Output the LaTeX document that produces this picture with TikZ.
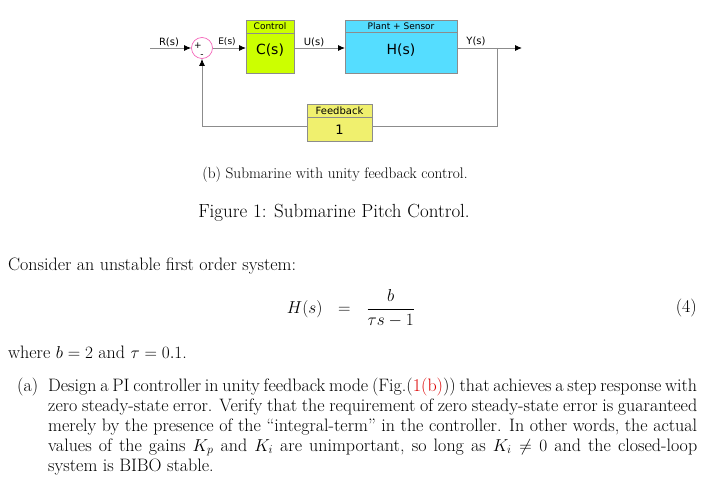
\documentclass[tikz,border=0pt]{standalone}
\usepackage{fontspec}
\usepackage{amsmath}
\usepackage{xcolor}
\newfontfamily\djv{DejaVu Sans}
\definecolor{ctl}{RGB}{204,255,0}
\definecolor{plt}{RGB}{85,221,255}
\definecolor{fbk}{RGB}{240,240,110}
\definecolor{ln}{RGB}{140,140,140}
\definecolor{refred}{RGB}{220,0,0}
\usetikzlibrary{arrows.meta}
\tikzset{
  blk/.style={draw=ln,line width=0.8pt,inner sep=0pt},
  wire/.style={draw=ln,line width=0.9pt},
  arr/.style={wire,-{Latex[length=7pt,width=6pt,color=black]}},
  lbl/.style={font=\djv\fontsize{9}{10}\selectfont,inner sep=1pt},
  body/.style={font=\fontsize{18}{20}\selectfont,inner sep=0pt}
}
\begin{document}
\begin{tikzpicture}[x=1pt,y=-1pt]
\useasboundingbox (0,0) rectangle (712,492);
% blocks
\filldraw[blk,fill=ctl] (246,20) rectangle (294,73);
\draw[blk] (246,33) -- (294,33);
\node[lbl] (ctlh) at (270,26.5) {Control};
\node[font=\djv\fontsize{14}{16}\selectfont] (C) at (270,50) {C(s)};
\filldraw[blk,fill=plt] (345,20) rectangle (457,73);
\draw[blk] (345,32) -- (457,32);
\node[lbl] (plh) at (401,26) {Plant + Sensor};
\node[font=\djv\fontsize{14}{16}\selectfont] (H) at (401,50) {H(s)};
\filldraw[blk,fill=fbk] (307,104) rectangle (372,141);
\draw[blk] (307,117) -- (372,117);
\node[lbl,font=\djv\fontsize{10}{11}\selectfont] (fbh) at (339.5,110.5) {Feedback};
\node[font=\djv\fontsize{13}{15}\selectfont] (F) at (339.5,129.5) {1};
\coordinate (cin) at (246,48);
\coordinate (cout) at (294,48);
\coordinate (hin) at (345,48);
\coordinate (hout) at (457,48);
\coordinate (tap) at (497,48);
\coordinate (yend) at (522,48);
\coordinate (rin) at (150,48);
\coordinate (fr) at (372,126);
\coordinate (fl) at (307,126);
\node[circle,draw=magenta!60,line width=0.7pt,minimum size=21pt,inner sep=0pt] (S) at (202,48) {};
\node[lbl] (plus) at (198,46) {+};
\node[lbl] (minus) at (202,56) {-};
\draw[arr] (rin) -- (S.west);
\draw[arr] (S.east) -- (cin);
\draw[arr] (cout) -- (hin);
\draw[arr] (hout) -- (yend);
\draw[wire] (tap) |- (fr);
\draw[arr] (fl) -| (S.south);
\node[lbl,font=\djv\fontsize{10}{11}\selectfont] (rl) at (169,42) {R(s)};
\node[lbl] (el) at (227,42) {E(s)};
\node[lbl,font=\djv\fontsize{10}{11}\selectfont] (ul) at (314,42) {U(s)};
\node[lbl,font=\djv\fontsize{10}{11}\selectfont] (yl) at (476,41) {Y(s)};
% captions
\node[font=\fontsize{15.3}{17}\selectfont] (capb) at (335,175) {(b) Submarine with unity feedback control.};
\node[font=\fontsize{19}{21}\selectfont] (cap1) at (334,213) {Figure 1: Submarine Pitch Control.};
\node[body,anchor=west] (t1) at (8,266) {Consider an unstable first order system:};
\node[body] (eq) at (351,308) {$H(s)\ \ =\ \ \dfrac{b}{\tau s-1}$};
\node[body,anchor=east] (eqn) at (697,308) {(4)};
\node[body,anchor=west] (t2) at (8,352) {where $b=2$ and $\tau=0.1$.};
\node[body,anchor=north west] (a) at (17,377.5) {(a)};
\node[body,anchor=north west,text width=649pt,align=justify] (pa) at (48,377.5) {Design a PI controller in unity feedback mode (Fig.(\textcolor{refred}{1(b)})) that achieves a step response with zero steady-state error. Verify that the requirement of zero steady-state error is guaranteed merely by the presence of the ``integral-term'' in the controller. In other words, the actual values of the gains $K_p$ and $K_i$ are unimportant, so long as $K_i\neq0$ and the closed-loop system is BIBO stable.};
\end{tikzpicture}
\end{document}
